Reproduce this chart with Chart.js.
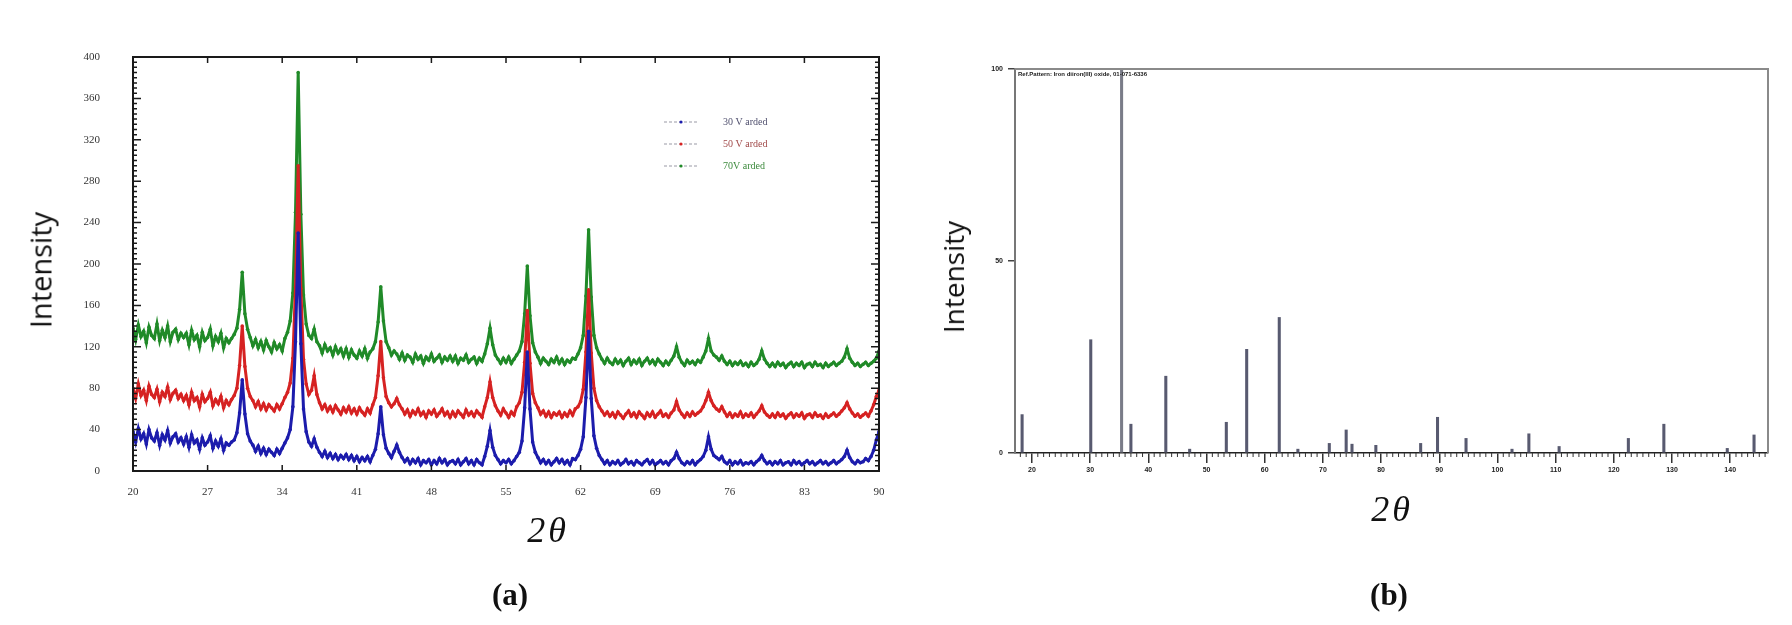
<!DOCTYPE html>
<html><head><meta charset="utf-8">
<script src="https://cdn.jsdelivr.net/npm/chart.js@4.4.1/dist/chart.umd.min.js"></script>
<style>
html,body{margin:0;padding:0;background:#fff;width:1792px;height:625px;overflow:hidden;}
canvas{position:absolute;top:0;}
.t{position:absolute;transform:translate(-50%,-50%);white-space:nowrap;color:#111;line-height:1;}
</style></head><body>
<canvas id="ca" width="900" height="625" style="left:0;width:900px;height:625px"></canvas>
<canvas id="cb" width="892" height="625" style="left:900px;width:892px;height:625px"></canvas>
<div class="t" style="left:40px;top:270px;font:29px 'Open Sans';transform:translate(-50%,-50%) rotate(-90deg)">Intensity</div>
<div class="t" style="left:953px;top:277px;font:28px 'Open Sans';transform:translate(-50%,-50%) rotate(-90deg)">Intensity</div>
<div class="t" style="left:548px;top:530px;font:italic 36px 'Liberation Serif';letter-spacing:3px">2θ</div>
<div class="t" style="left:1392px;top:509px;font:italic 36px 'Liberation Serif';letter-spacing:3px">2θ</div>
<div class="t" style="left:510px;top:595px;font:bold 31px 'Liberation Serif'">(a)</div>
<div class="t" style="left:1389px;top:595px;font:bold 31px 'Liberation Serif'">(b)</div>
<div style="position:absolute;left:1018px;top:71px;font:bold 6px 'Liberation Sans';color:#222;white-space:nowrap">Ref.Pattern: Iron diiron(III) oxide, 01-071-6336</div>
<script>
// ---------- (a) measured XRD patterns ----------
const twoThetaStart = 20, twoThetaStep = 0.25;   // 20.00 ... 90.00
const seriesNames = ['30 V arded', '50 V arded', '70V arded'];
const xTicksA = [20, 27, 34, 41, 48, 55, 62, 69, 76, 83, 90];
const yTicksA = [0, 40, 80, 120, 160, 200, 240, 280, 320, 360, 400];

const blue30 = [
 38,28,41,31,36,26,40,32,29,37,25,35,30,39,27,33,36,28,32,26,
 33,23,35,27,30,21,32,25,28,34,22,29,24,31,20,27,25,28,30,37,
 56,88,55,36,29,25,19,24,17,22,16,21,18,15,21,17,22,27,32,40,
 62,125,230,123,60,38,28,24,31,23,18,14,19,13,17,12,16,11,15,12,
 16,11,15,10,14,9,13,10,14,9,15,21,36,62,35,22,17,13,19,25,
 18,13,9,12,7,11,8,12,6,10,8,11,6,10,7,12,8,11,6,9,
 10,7,11,6,9,12,7,10,6,11,8,6,14,24,39,23,15,11,7,10,
 8,11,7,10,14,18,29,61,115,60,28,18,13,8,11,7,10,6,9,12,
 8,11,7,10,6,12,11,15,21,33,71,135,70,34,22,15,11,7,10,6,
 9,7,10,6,8,11,7,9,6,10,8,6,9,11,7,10,6,8,10,7,
 9,6,10,12,18,12,8,6,9,7,10,6,9,11,14,20,33,21,15,13,
 11,14,9,7,10,6,9,7,10,6,8,7,9,6,9,11,15,10,7,9,
 6,9,7,10,6,8,9,6,10,7,9,6,8,10,7,9,6,8,10,7,
 9,6,8,10,7,9,11,14,20,13,9,7,10,8,9,12,10,14,20,30,
 38];

const red50 = [
 80,70,84,73,78,68,82,74,71,79,67,76,72,81,69,75,78,70,74,68,
 73,64,76,68,71,62,74,67,70,76,63,69,65,72,61,68,64,69,73,80,
 102,140,101,80,72,68,62,67,60,65,59,64,61,58,64,60,65,71,76,85,
 109,178,295,176,108,84,74,78,92,74,66,60,64,58,62,57,63,59,55,61,
 57,62,56,60,55,61,57,54,60,56,64,71,92,125,90,72,66,62,65,70,
 64,60,55,59,53,58,55,60,54,57,52,58,55,59,53,56,60,54,57,52,
 57,53,58,55,52,59,54,57,53,58,55,52,62,71,86,71,63,58,54,60,
 56,52,57,54,62,66,76,105,155,104,75,66,61,55,58,53,57,52,56,54,
 57,52,56,53,58,54,60,62,67,79,115,175,114,80,68,62,58,54,57,53,
 56,52,57,54,51,55,58,53,56,52,57,54,51,56,53,57,52,55,58,53,
 55,52,56,59,67,59,55,52,56,53,57,54,56,58,62,68,76,68,63,60,
 58,62,57,53,56,52,55,53,57,52,55,53,56,52,55,58,63,57,54,52,
 55,52,56,53,55,51,54,56,52,55,53,56,51,54,55,52,56,53,54,51,
 55,52,54,56,53,55,58,61,66,60,56,53,55,52,54,56,53,58,64,72,
 78];

const green70 = [
 138,127,141,130,135,124,139,131,128,142,126,136,129,140,125,134,137,127,133,129,
 133,122,136,127,131,120,134,126,129,137,121,130,125,133,119,128,124,128,132,138,
 156,192,152,137,129,121,127,119,125,117,126,120,115,124,118,122,116,128,134,145,
 172,250,385,248,170,142,131,128,137,125,121,114,122,116,119,112,120,114,118,111,
 118,110,117,112,109,116,111,118,109,115,118,125,144,178,145,125,119,112,116,113,
 108,114,107,112,110,105,113,108,111,104,110,107,113,106,109,112,105,110,107,111,
 106,111,104,109,107,112,105,108,110,104,109,106,113,123,138,122,112,108,104,109,
 105,110,104,108,112,116,125,152,198,150,124,115,110,104,109,106,103,108,105,110,
 104,108,103,107,105,109,108,113,119,131,169,233,168,131,119,113,108,104,109,105,
 103,108,104,107,102,106,109,103,107,104,108,102,106,109,104,107,103,108,105,102,
 106,103,107,111,120,110,105,102,107,104,106,103,107,105,110,116,128,116,112,110,
 107,111,106,103,106,102,105,103,106,102,104,101,105,102,104,108,116,108,104,101,
 104,101,105,102,104,100,103,105,101,104,102,105,100,103,104,101,105,102,103,100,
 104,101,103,105,102,104,106,110,118,109,105,102,104,101,103,105,102,104,106,109,
 116];

// ---------- (b) reference pattern 01-071-6336 ----------
const refTwoTheta = [18.3, 30.1, 35.4, 37.0, 43.0, 47.1, 53.4, 56.9, 62.5, 65.7, 71.1, 74.0, 75.0, 79.1, 86.8, 89.7, 94.6, 102.5, 105.4, 110.6, 122.5, 128.6, 139.5, 144.1];
const refIntensity = [10, 29.5, 100, 7.5, 20, 1, 8, 27, 35.3, 1, 2.5, 6, 2.3, 2, 2.5, 9.3, 3.8, 1, 5, 1.7, 3.8, 7.5, 1.2, 4.7];
const xTicksB = [20, 30, 40, 50, 60, 70, 80, 90, 100, 110, 120, 130, 140];
const yTicksB = [0, 50, 100];

// ---------- build ----------
const toXY = arr => arr.map((v, i) => ({x: twoThetaStart + i * twoThetaStep, y: v}));
const colors = ['rgb(28,28,172)', 'rgb(214,34,34)', 'rgb(32,138,40)'];
const legendTextColors = ['#50506e', '#a04848', '#3c8a3c'];

const frameA = {
  id: 'frameA',
  afterDraw(chart) {
    const {ctx, chartArea: a, scales: {x, y}} = chart;
    ctx.save();
    ctx.strokeStyle = '#1a1a1a';
    ctx.lineWidth = 2;
    ctx.strokeRect(a.left, a.top, a.right - a.left, a.bottom - a.top);
    ctx.lineWidth = 1.5;
    ctx.beginPath();
    for (let v = 0; v <= 400; v += 5) {
      const py = y.getPixelForValue(v);
      const len = v % 40 === 0 ? 8 : 4;
      ctx.moveTo(a.left, py); ctx.lineTo(a.left + len, py);
      ctx.moveTo(a.right, py); ctx.lineTo(a.right - len, py);
    }
    for (const v of xTicksA) {
      const px = x.getPixelForValue(v);
      ctx.moveTo(px, a.top); ctx.lineTo(px, a.top + 6);
      ctx.moveTo(px, a.bottom); ctx.lineTo(px, a.bottom - 6);
    }
    ctx.stroke();
    // legend
    const ly = [122, 144, 166];
    ctx.font = '10px "Liberation Serif"';
    ctx.textBaseline = 'middle';
    for (let k = 0; k < 3; k++) {
      ctx.strokeStyle = '#9a9aa6';
      ctx.lineWidth = 1.2;
      ctx.setLineDash([3, 2]);
      ctx.beginPath(); ctx.moveTo(664, ly[k]); ctx.lineTo(697, ly[k]); ctx.stroke();
      ctx.setLineDash([]);
      ctx.fillStyle = colors[k];
      ctx.beginPath(); ctx.arc(681, ly[k], 1.6, 0, Math.PI * 2); ctx.fill();
      ctx.fillStyle = legendTextColors[k];
      ctx.fillText(seriesNames[k], 723, ly[k]);
    }
    ctx.restore();
  }
};

new Chart(document.getElementById('ca'), {
  type: 'line',
  data: {
    datasets: [
      {label: seriesNames[0], data: toXY(blue30), borderColor: colors[0], backgroundColor: colors[0]},
      {label: seriesNames[1], data: toXY(red50), borderColor: colors[1], backgroundColor: colors[1]},
      {label: seriesNames[2], data: toXY(green70), borderColor: colors[2], backgroundColor: colors[2]}
    ].map(d => Object.assign(d, {borderWidth: 3, pointRadius: 1.8, pointBorderWidth: 0, tension: 0, fill: false}))
  },
  options: {
    responsive: false, animation: false,
    layout: {padding: {left: 0, top: 57, right: 21, bottom: 0}},
    plugins: {legend: {display: false}, tooltip: {enabled: false}},
    scales: {
      x: {
        type: 'linear', min: 20, max: 90,
        afterBuildTicks: s => { s.ticks = xTicksA.map(v => ({value: v})); },
        afterFit: s => { s.height = 154; },
        grid: {display: false, drawTicks: false}, border: {display: false},
        ticks: {padding: 15, color: '#333', font: {family: 'Liberation Serif', size: 11}}
      },
      y: {
        min: 0, max: 400,
        afterBuildTicks: s => { s.ticks = yTicksA.map(v => ({value: v})); },
        afterFit: s => { s.width = 133; },
        grid: {display: false, drawTicks: false}, border: {display: false},
        ticks: {padding: 33, color: '#333', font: {family: 'Liberation Serif', size: 11}}
      }
    }
  },
  plugins: [frameA]
});

const frameB = {
  id: 'frameB',
  afterDraw(chart) {
    const {ctx, chartArea: a, scales: {x}} = chart;
    ctx.save();
    ctx.strokeStyle = '#8a8a8a';
    ctx.lineWidth = 2;
    ctx.beginPath();
    ctx.moveTo(a.left, a.top); ctx.lineTo(a.right, a.top); ctx.lineTo(a.right, a.bottom);
    ctx.stroke();
    ctx.strokeStyle = '#333';
    ctx.lineWidth = 1;
    ctx.beginPath();
    for (let v = 18; v <= 146; v++) {
      if (v % 10 === 0) continue;
      const px = x.getPixelForValue(v);
      ctx.moveTo(px, a.bottom); ctx.lineTo(px, a.bottom + 4);
    }
    ctx.stroke();
    ctx.restore();
  }
};

new Chart(document.getElementById('cb'), {
  type: 'bar',
  data: {
    datasets: [{
      label: 'Ref. pattern',
      data: refTwoTheta.map((p, i) => ({x: p, y: refIntensity[i]})),
      backgroundColor: refIntensity.map(v => v >= 100 ? '#7a7c88' : '#585a70'),
      barThickness: 2.4
    }]
  },
  options: {
    responsive: false, animation: false,
    layout: {padding: {left: 0, top: 69, right: 24, bottom: 0}},
    plugins: {legend: {display: false}, tooltip: {enabled: false}},
    scales: {
      x: {
        type: 'linear', min: 17.08, max: 146.5, offset: false,
        afterBuildTicks: s => { s.ticks = xTicksB.map(v => ({value: v})); },
        afterFit: s => { s.height = 172; },
        grid: {drawOnChartArea: false, tickLength: 10, color: '#333', lineWidth: 1.5, offset: false},
        border: {color: '#222', width: 1.5},
        ticks: {padding: 3, color: '#222', font: {family: 'Liberation Sans', size: 7, weight: 'bold'}}
      },
      y: {
        min: 0, max: 100,
        afterBuildTicks: s => { s.ticks = yTicksB.map(v => ({value: v})); },
        afterFit: s => { s.width = 115; },
        grid: {drawOnChartArea: false, tickLength: 7, color: '#444', lineWidth: 1.5},
        border: {color: '#777', width: 2},
        ticks: {padding: 5, color: '#222', font: {family: 'Liberation Sans', size: 7, weight: 'bold'}}
      }
    }
  },
  plugins: [frameB]
});
</script>
</body></html>
